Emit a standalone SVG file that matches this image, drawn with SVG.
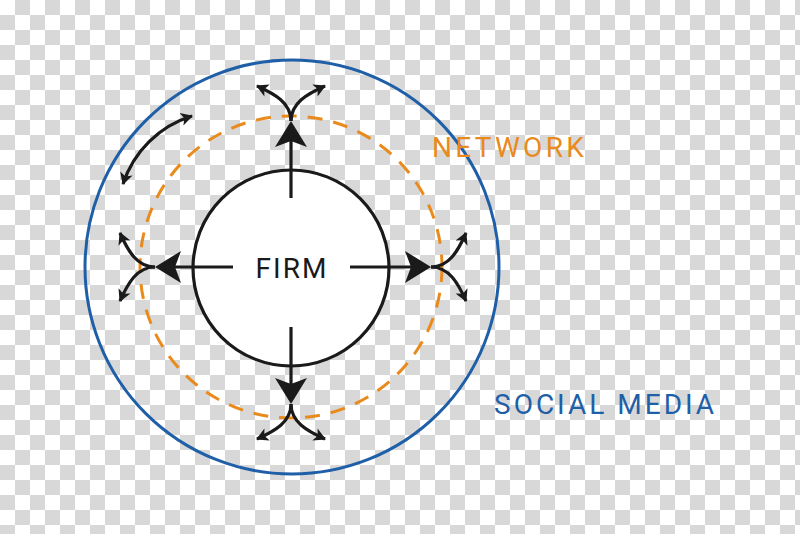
<svg xmlns="http://www.w3.org/2000/svg" width="800" height="534" viewBox="0 0 800 534">
<defs>
<pattern id="chk" x="0" y="0" width="30" height="30" patternUnits="userSpaceOnUse">
<rect x="0" y="0" width="30" height="30" fill="#ffffff"/>
<rect x="15" y="0" width="15" height="15" fill="#d8d8d8"/>
<rect x="0" y="15" width="15" height="15" fill="#d8d8d8"/>
</pattern>
<marker id="ah" viewBox="-12 -7 14 14" refX="0" refY="0" markerWidth="14" markerHeight="14" markerUnits="userSpaceOnUse" orient="auto-start-reverse">
<path d="M1,0 L-11,-6.5 L-8,0 L-11,6.5 Z" fill="#1a1a1a"/>
</marker>
<g id="fork">
<path d="M0,0 C0,-18 -16,-27 -34,-35" class="arm" marker-end="url(#ah)"/>
<path d="M0,0 C0,-18 16,-27 34,-35" class="arm" marker-end="url(#ah)"/>
<path d="M0,0 L-16,26 L0,20 L16,26 Z" fill="#1a1a1a"/>
</g>
</defs>
<style>
.arm{fill:none;stroke:#1a1a1a;stroke-width:3.2}
.ax{stroke:#1a1a1a;stroke-width:3.2;fill:none}
.lbl{font-family:Roboto,"Liberation Sans",sans-serif;font-size:28px}
</style>
<rect width="800" height="534" fill="url(#chk)"/>
<g id="social-media">
<circle cx="292" cy="267" r="207" fill="none" stroke="#1f5fa8" stroke-width="3"/>
<text class="lbl" x="494" y="414" fill="#1f5fa8" letter-spacing="3">SOCIAL MEDIA</text>
</g>
<g id="network">
<circle cx="291" cy="267" r="151" fill="none" stroke="#e98a1d" stroke-width="3" stroke-dasharray="15 11"/>
<text class="lbl" x="432" y="157" fill="#e98a1d" letter-spacing="3.3">NETWORK</text>
</g>
<g id="firm">
<circle cx="291" cy="268" r="98" fill="#ffffff" stroke="#1a1a1a" stroke-width="3.2"/>
<text x="292" y="278" text-anchor="middle" font-family="Roboto,'Liberation Sans',sans-serif" font-size="28" letter-spacing="2" fill="#1a1a1a">FIRM</text>
</g>
<g id="connectors">
<line class="ax" x1="291" y1="140" x2="291" y2="198"/>
<line class="ax" x1="291" y1="327" x2="291" y2="385"/>
<line class="ax" x1="175" y1="267" x2="233" y2="267"/>
<line class="ax" x1="350" y1="267" x2="412" y2="267"/>
<use href="#fork" transform="translate(291,121)"/>
<use href="#fork" transform="translate(291,404) rotate(180)"/>
<use href="#fork" transform="translate(155,267) rotate(-90)"/>
<use href="#fork" transform="translate(431,267) rotate(90)"/>
<path d="M192,116 A105,105 0 0 0 123,184" class="arm" marker-start="url(#ah)" marker-end="url(#ah)"/>
</g>
</svg>
